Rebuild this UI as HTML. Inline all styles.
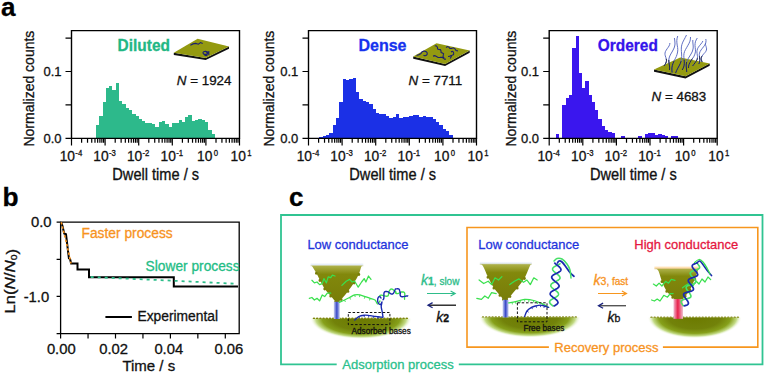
<!DOCTYPE html>
<html><head><meta charset="utf-8"><style>html,body{margin:0;padding:0;background:#fff;width:765px;height:373px;overflow:hidden}svg{display:block}</style></head>
<body><svg width="765" height="373" viewBox="0 0 765 373">
<defs>
<linearGradient id="tipg" x1="0" y1="0" x2="0" y2="1"><stop offset="0" stop-color="#b0b44c"/><stop offset="0.24" stop-color="#82880c"/><stop offset="1" stop-color="#787d08"/></linearGradient>
<radialGradient id="surfg" cx="0.5" cy="0" r="1" gradientTransform="matrix(0.5 0 0 1 0.25 0)"><stop offset="0" stop-color="#6c7a00"/><stop offset="0.55" stop-color="#72820a"/><stop offset="0.76" stop-color="#86a01a"/><stop offset="0.89" stop-color="#c4dc88"/><stop offset="1" stop-color="#ffffff" stop-opacity="0"/></radialGradient>
<linearGradient id="barb" x1="0" y1="0" x2="1" y2="0"><stop offset="0" stop-color="#c8d0f0"/><stop offset="0.5" stop-color="#3848c8"/><stop offset="1" stop-color="#c8d0f0"/></linearGradient>
<linearGradient id="barr" x1="0" y1="0" x2="1" y2="0"><stop offset="0" stop-color="#f0b8d0"/><stop offset="0.45" stop-color="#e8204a"/><stop offset="1" stop-color="#f0c0d0"/></linearGradient>
<linearGradient id="glowb" x1="0" y1="0" x2="0" y2="1"><stop offset="0" stop-color="#ffffff"/><stop offset="0.5" stop-color="#e4ecf8"/><stop offset="1" stop-color="#a8ac50" stop-opacity="0.3"/></linearGradient>
<linearGradient id="glowo" x1="0" y1="0" x2="0" y2="1"><stop offset="0" stop-color="#ffffff"/><stop offset="0.5" stop-color="#ffdcaa"/><stop offset="1" stop-color="#c0a040" stop-opacity="0.3"/></linearGradient>
</defs>
<rect width="765" height="373" fill="#fff"/>
<text x="1" y="16" font-family="Liberation Sans, sans-serif" font-size="26" font-weight="bold" fill="#000" stroke="#000" stroke-width="0.3">a</text>
<path d="M95.90 138.4V124.70H99.21V138.4ZM99.21 138.4V115.70H102.51V138.4ZM102.51 138.4V102.10H105.82V138.4ZM105.82 138.4V87.70H109.12V138.4ZM109.12 138.4V85.60H112.43V138.4ZM112.43 138.4V89.60H115.74V138.4ZM115.74 138.4V83.40H119.04V138.4ZM119.04 138.4V101.30H122.35V138.4ZM122.35 138.4V104.30H125.65V138.4ZM125.65 138.4V107.70H128.96V138.4ZM128.96 138.4V109.90H132.27V138.4ZM132.27 138.4V113.70H135.57V138.4ZM135.57 138.4V115.70H138.88V138.4ZM138.88 138.4V118.80H142.18V138.4ZM142.18 138.4V121.30H145.49V138.4ZM145.49 138.4V122.50H148.80V138.4ZM148.80 138.4V123.00H152.10V138.4ZM152.10 138.4V124.20H155.41V138.4ZM155.41 138.4V126.80H158.71V138.4ZM158.71 138.4V121.80H162.02V138.4ZM162.02 138.4V120.50H165.33V138.4ZM165.33 138.4V123.50H168.63V138.4ZM168.63 138.4V127.30H171.94V138.4ZM171.94 138.4V123.00H175.24V138.4ZM175.24 138.4V122.50H178.55V138.4ZM178.55 138.4V119.60H181.86V138.4ZM181.86 138.4V122.20H185.16V138.4ZM185.16 138.4V117.10H188.47V138.4ZM188.47 138.4V115.40H191.77V138.4ZM191.77 138.4V120.50H195.08V138.4ZM195.08 138.4V120.10H198.39V138.4ZM198.39 138.4V119.10H201.69V138.4ZM201.69 138.4V120.10H205.00V138.4ZM205.00 138.4V121.80H208.30V138.4ZM208.30 138.4V130.30H211.61V138.4ZM211.61 138.4V133.70H214.92V138.4Z" fill="#2db98b" shape-rendering="crispEdges"/>
<path d="M71.5 30.6H239.5V138.4H71.5Z" fill="none" stroke="#000" stroke-width="1.4"/>
<path d="M71.50 138.4v7.2M81.61 138.4v4.4M87.53 138.4v4.4M91.73 138.4v4.4M94.99 138.4v4.4M97.65 138.4v4.4M99.90 138.4v4.4M101.84 138.4v4.4M103.56 138.4v4.4M105.10 138.4v7.2M115.21 138.4v4.4M121.13 138.4v4.4M125.33 138.4v4.4M128.59 138.4v4.4M131.25 138.4v4.4M133.50 138.4v4.4M135.44 138.4v4.4M137.16 138.4v4.4M138.70 138.4v7.2M148.81 138.4v4.4M154.73 138.4v4.4M158.93 138.4v4.4M162.19 138.4v4.4M164.85 138.4v4.4M167.10 138.4v4.4M169.04 138.4v4.4M170.76 138.4v4.4M172.30 138.4v7.2M182.41 138.4v4.4M188.33 138.4v4.4M192.53 138.4v4.4M195.79 138.4v4.4M198.45 138.4v4.4M200.70 138.4v4.4M202.64 138.4v4.4M204.36 138.4v4.4M205.90 138.4v7.2M216.01 138.4v4.4M221.93 138.4v4.4M226.13 138.4v4.4M229.39 138.4v4.4M232.05 138.4v4.4M234.30 138.4v4.4M236.24 138.4v4.4M237.96 138.4v4.4M239.50 138.4v7.2M71.5 138.40h-6M71.5 104.95h-6M71.5 71.50h-6M71.5 38.05h-6" stroke="#000" stroke-width="1.2" fill="none"/>
<text transform="translate(59.70 160.6) scale(0.92 1)" font-family="Liberation Sans, sans-serif" font-size="15" fill="#111" stroke="#111" stroke-width="0.3">10</text>
<text transform="translate(75.34 156.2) scale(0.9 1)" font-family="Liberation Sans, sans-serif" font-size="8.6" fill="#111" stroke="#111" stroke-width="0.3">-4</text>
<text transform="translate(93.30 160.6) scale(0.92 1)" font-family="Liberation Sans, sans-serif" font-size="15" fill="#111" stroke="#111" stroke-width="0.3">10</text>
<text transform="translate(108.94 156.2) scale(0.9 1)" font-family="Liberation Sans, sans-serif" font-size="8.6" fill="#111" stroke="#111" stroke-width="0.3">-3</text>
<text transform="translate(126.90 160.6) scale(0.92 1)" font-family="Liberation Sans, sans-serif" font-size="15" fill="#111" stroke="#111" stroke-width="0.3">10</text>
<text transform="translate(142.54 156.2) scale(0.9 1)" font-family="Liberation Sans, sans-serif" font-size="8.6" fill="#111" stroke="#111" stroke-width="0.3">-2</text>
<text transform="translate(160.50 160.6) scale(0.92 1)" font-family="Liberation Sans, sans-serif" font-size="15" fill="#111" stroke="#111" stroke-width="0.3">10</text>
<text transform="translate(176.14 156.2) scale(0.9 1)" font-family="Liberation Sans, sans-serif" font-size="8.6" fill="#111" stroke="#111" stroke-width="0.3">-1</text>
<text transform="translate(197.00 160.6) scale(0.92 1)" font-family="Liberation Sans, sans-serif" font-size="15" fill="#111" stroke="#111" stroke-width="0.3">10</text>
<text transform="translate(213.64 156.2) scale(0.9 1)" font-family="Liberation Sans, sans-serif" font-size="8.6" fill="#111" stroke="#111" stroke-width="0.3">0</text>
<text transform="translate(230.60 160.6) scale(0.92 1)" font-family="Liberation Sans, sans-serif" font-size="15" fill="#111" stroke="#111" stroke-width="0.3">10</text>
<text transform="translate(247.24 156.2) scale(0.9 1)" font-family="Liberation Sans, sans-serif" font-size="8.6" fill="#111" stroke="#111" stroke-width="0.3">1</text>
<text x="61.5" y="76.10" font-family="Liberation Sans, sans-serif" font-size="13" fill="#111" text-anchor="end" stroke="#111" stroke-width="0.3">0.1</text>
<text x="61.5" y="143.20" font-family="Liberation Sans, sans-serif" font-size="13" fill="#111" text-anchor="end" stroke="#111" stroke-width="0.3">0.0</text>
<text transform="translate(155.7 179.6) scale(1 1.07)" font-family="Liberation Sans, sans-serif" font-size="14.6" fill="#111" text-anchor="middle" stroke="#111" stroke-width="0.3">Dwell time / s</text>
<text transform="translate(34.2 88.6) rotate(-90)" font-family="Liberation Sans, sans-serif" font-size="14" fill="#111" text-anchor="middle" stroke="#111" stroke-width="0.3">Normalized counts</text>
<text transform="translate(117.6 50.8) scale(0.92 1)" font-family="Liberation Sans, sans-serif" font-size="16.8" font-weight="bold" fill="#22b784" stroke="#22b784" stroke-width="0.3">Diluted</text>
<text x="176.8" y="85.4" font-family="Liberation Sans, sans-serif" font-size="13.4" fill="#111" stroke="#111" stroke-width="0.3"><tspan font-style="italic">N</tspan> = 1924</text>
<path d="M173.8 52.8L205.7 57.9L229 46.5L229 48.7L205.7 60.1L173.8 55.0Z" fill="#111"/>
<path d="M173.8 52.8L197.6 38.8L229 46.5L205.7 57.9Z" fill="#949a10"/>
<path d="M319.20 138.4V136.60H322.54V138.4ZM322.54 138.4V136.00H325.88V138.4ZM325.88 138.4V135.30H329.22V138.4ZM329.22 138.4V132.80H332.56V138.4ZM332.56 138.4V124.90H335.90V138.4ZM335.90 138.4V117.80H339.24V138.4ZM339.24 138.4V102.30H342.58V138.4ZM342.58 138.4V79.00H345.92V138.4ZM345.92 138.4V79.90H349.26V138.4ZM349.26 138.4V78.80H352.60V138.4ZM352.60 138.4V78.10H355.94V138.4ZM355.94 138.4V92.10H359.28V138.4ZM359.28 138.4V99.10H362.62V138.4ZM362.62 138.4V100.80H365.96V138.4ZM365.96 138.4V102.40H369.30V138.4ZM369.30 138.4V104.30H372.64V138.4ZM372.64 138.4V109.20H375.98V138.4ZM375.98 138.4V112.80H379.32V138.4ZM379.32 138.4V113.70H382.66V138.4ZM382.66 138.4V114.10H386.00V138.4ZM386.00 138.4V116.00H389.34V138.4ZM389.34 138.4V117.80H392.68V138.4ZM392.68 138.4V117.00H396.02V138.4ZM396.02 138.4V114.00H399.36V138.4ZM399.36 138.4V118.40H402.70V138.4ZM402.70 138.4V116.80H406.04V138.4ZM406.04 138.4V116.70H409.38V138.4ZM409.38 138.4V116.20H412.72V138.4ZM412.72 138.4V114.50H416.06V138.4ZM416.06 138.4V114.50H419.40V138.4ZM419.40 138.4V116.50H422.74V138.4ZM422.74 138.4V116.10H426.08V138.4ZM426.08 138.4V117.00H429.42V138.4ZM429.42 138.4V116.50H432.76V138.4ZM432.76 138.4V119.30H436.10V138.4ZM436.10 138.4V122.00H439.44V138.4ZM439.44 138.4V124.70H442.78V138.4ZM442.78 138.4V128.50H446.12V138.4ZM446.12 138.4V131.00H449.46V138.4ZM449.46 138.4V134.90H452.80V138.4Z" fill="#1b30e6" shape-rendering="crispEdges"/>
<path d="M308.5 30.6H476.5V138.4H308.5Z" fill="none" stroke="#000" stroke-width="1.4"/>
<path d="M308.50 138.4v7.2M318.61 138.4v4.4M324.53 138.4v4.4M328.73 138.4v4.4M331.99 138.4v4.4M334.65 138.4v4.4M336.90 138.4v4.4M338.84 138.4v4.4M340.56 138.4v4.4M342.10 138.4v7.2M352.21 138.4v4.4M358.13 138.4v4.4M362.33 138.4v4.4M365.59 138.4v4.4M368.25 138.4v4.4M370.50 138.4v4.4M372.44 138.4v4.4M374.16 138.4v4.4M375.70 138.4v7.2M385.81 138.4v4.4M391.73 138.4v4.4M395.93 138.4v4.4M399.19 138.4v4.4M401.85 138.4v4.4M404.10 138.4v4.4M406.04 138.4v4.4M407.76 138.4v4.4M409.30 138.4v7.2M419.41 138.4v4.4M425.33 138.4v4.4M429.53 138.4v4.4M432.79 138.4v4.4M435.45 138.4v4.4M437.70 138.4v4.4M439.64 138.4v4.4M441.36 138.4v4.4M442.90 138.4v7.2M453.01 138.4v4.4M458.93 138.4v4.4M463.13 138.4v4.4M466.39 138.4v4.4M469.05 138.4v4.4M471.30 138.4v4.4M473.24 138.4v4.4M474.96 138.4v4.4M476.50 138.4v7.2M308.5 138.40h-6M308.5 104.95h-6M308.5 71.50h-6M308.5 38.05h-6" stroke="#000" stroke-width="1.2" fill="none"/>
<text transform="translate(296.70 160.6) scale(0.92 1)" font-family="Liberation Sans, sans-serif" font-size="15" fill="#111" stroke="#111" stroke-width="0.3">10</text>
<text transform="translate(312.34 156.2) scale(0.9 1)" font-family="Liberation Sans, sans-serif" font-size="8.6" fill="#111" stroke="#111" stroke-width="0.3">-4</text>
<text transform="translate(330.30 160.6) scale(0.92 1)" font-family="Liberation Sans, sans-serif" font-size="15" fill="#111" stroke="#111" stroke-width="0.3">10</text>
<text transform="translate(345.94 156.2) scale(0.9 1)" font-family="Liberation Sans, sans-serif" font-size="8.6" fill="#111" stroke="#111" stroke-width="0.3">-3</text>
<text transform="translate(363.90 160.6) scale(0.92 1)" font-family="Liberation Sans, sans-serif" font-size="15" fill="#111" stroke="#111" stroke-width="0.3">10</text>
<text transform="translate(379.54 156.2) scale(0.9 1)" font-family="Liberation Sans, sans-serif" font-size="8.6" fill="#111" stroke="#111" stroke-width="0.3">-2</text>
<text transform="translate(397.50 160.6) scale(0.92 1)" font-family="Liberation Sans, sans-serif" font-size="15" fill="#111" stroke="#111" stroke-width="0.3">10</text>
<text transform="translate(413.14 156.2) scale(0.9 1)" font-family="Liberation Sans, sans-serif" font-size="8.6" fill="#111" stroke="#111" stroke-width="0.3">-1</text>
<text transform="translate(434.00 160.6) scale(0.92 1)" font-family="Liberation Sans, sans-serif" font-size="15" fill="#111" stroke="#111" stroke-width="0.3">10</text>
<text transform="translate(450.64 156.2) scale(0.9 1)" font-family="Liberation Sans, sans-serif" font-size="8.6" fill="#111" stroke="#111" stroke-width="0.3">0</text>
<text transform="translate(467.60 160.6) scale(0.92 1)" font-family="Liberation Sans, sans-serif" font-size="15" fill="#111" stroke="#111" stroke-width="0.3">10</text>
<text transform="translate(484.24 156.2) scale(0.9 1)" font-family="Liberation Sans, sans-serif" font-size="8.6" fill="#111" stroke="#111" stroke-width="0.3">1</text>
<text x="298.3" y="76.10" font-family="Liberation Sans, sans-serif" font-size="13" fill="#111" text-anchor="end" stroke="#111" stroke-width="0.3">0.1</text>
<text x="298.3" y="143.20" font-family="Liberation Sans, sans-serif" font-size="13" fill="#111" text-anchor="end" stroke="#111" stroke-width="0.3">0.0</text>
<text transform="translate(392.7 179.6) scale(1 1.07)" font-family="Liberation Sans, sans-serif" font-size="14.6" fill="#111" text-anchor="middle" stroke="#111" stroke-width="0.3">Dwell time / s</text>
<text transform="translate(274.2 88.6) rotate(-90)" font-family="Liberation Sans, sans-serif" font-size="14" fill="#111" text-anchor="middle" stroke="#111" stroke-width="0.3">Normalized counts</text>
<text transform="translate(358.4 50.7) scale(0.955 1)" font-family="Liberation Sans, sans-serif" font-size="16.8" font-weight="bold" fill="#1632ee" stroke="#1632ee" stroke-width="0.3">Dense</text>
<text x="408.5" y="84.8" font-family="Liberation Sans, sans-serif" font-size="13.4" fill="#111" stroke="#111" stroke-width="0.3"><tspan font-style="italic">N</tspan> = 7711</text>
<path d="M413.2 56.6L445.1 63.9L469.7 50.5L469.7 52.7L445.1 66.1L413.2 58.800000000000004Z" fill="#111"/>
<path d="M413.2 56.6L436.5 43.2L469.7 50.5L445.1 63.9Z" fill="#949a10"/>
<path d="M555.80 138.4V133.90H559.00V138.4ZM562.20 138.4V104.90H565.90V138.4ZM565.90 138.4V98.00H569.20V138.4ZM569.20 138.4V94.80H572.40V138.4ZM572.40 138.4V48.20H575.60V138.4ZM575.60 138.4V36.10H578.80V138.4ZM578.80 138.4V72.60H582.00V138.4ZM582.00 138.4V87.70H585.20V138.4ZM585.20 138.4V80.70H588.80V138.4ZM588.80 138.4V95.30H592.00V138.4ZM592.00 138.4V101.70H595.20V138.4ZM595.20 138.4V109.80H598.40V138.4ZM598.40 138.4V119.40H601.60V138.4ZM601.60 138.4V125.80H604.90V138.4ZM604.90 138.4V129.90H608.10V138.4ZM608.10 138.4V131.80H611.60V138.4ZM611.60 138.4V133.10H615.20V138.4ZM621.20 138.4V135.80H625.10V138.4ZM638.00 138.4V135.80H641.60V138.4ZM644.70 138.4V134.20H647.80V138.4ZM647.80 138.4V133.40H651.00V138.4ZM651.00 138.4V132.90H654.90V138.4ZM654.90 138.4V134.80H658.40V138.4ZM658.40 138.4V134.20H662.00V138.4ZM662.00 138.4V134.80H665.10V138.4ZM665.10 138.4V136.40H668.20V138.4ZM671.40 138.4V135.80H677.60V138.4Z" fill="#3a16ee" shape-rendering="crispEdges"/>
<path d="M549.2 30.6H717.2V138.4H549.2Z" fill="none" stroke="#000" stroke-width="1.4"/>
<path d="M549.20 138.4v7.2M559.31 138.4v4.4M565.23 138.4v4.4M569.43 138.4v4.4M572.69 138.4v4.4M575.35 138.4v4.4M577.60 138.4v4.4M579.54 138.4v4.4M581.26 138.4v4.4M582.80 138.4v7.2M592.91 138.4v4.4M598.83 138.4v4.4M603.03 138.4v4.4M606.29 138.4v4.4M608.95 138.4v4.4M611.20 138.4v4.4M613.14 138.4v4.4M614.86 138.4v4.4M616.40 138.4v7.2M626.51 138.4v4.4M632.43 138.4v4.4M636.63 138.4v4.4M639.89 138.4v4.4M642.55 138.4v4.4M644.80 138.4v4.4M646.74 138.4v4.4M648.46 138.4v4.4M650.00 138.4v7.2M660.11 138.4v4.4M666.03 138.4v4.4M670.23 138.4v4.4M673.49 138.4v4.4M676.15 138.4v4.4M678.40 138.4v4.4M680.34 138.4v4.4M682.06 138.4v4.4M683.60 138.4v7.2M693.71 138.4v4.4M699.63 138.4v4.4M703.83 138.4v4.4M707.09 138.4v4.4M709.75 138.4v4.4M712.00 138.4v4.4M713.94 138.4v4.4M715.66 138.4v4.4M717.20 138.4v7.2M549.2 138.40h-6M549.2 104.95h-6M549.2 71.50h-6M549.2 38.05h-6" stroke="#000" stroke-width="1.2" fill="none"/>
<text transform="translate(537.40 160.6) scale(0.92 1)" font-family="Liberation Sans, sans-serif" font-size="15" fill="#111" stroke="#111" stroke-width="0.3">10</text>
<text transform="translate(553.04 156.2) scale(0.9 1)" font-family="Liberation Sans, sans-serif" font-size="8.6" fill="#111" stroke="#111" stroke-width="0.3">-4</text>
<text transform="translate(571.00 160.6) scale(0.92 1)" font-family="Liberation Sans, sans-serif" font-size="15" fill="#111" stroke="#111" stroke-width="0.3">10</text>
<text transform="translate(586.64 156.2) scale(0.9 1)" font-family="Liberation Sans, sans-serif" font-size="8.6" fill="#111" stroke="#111" stroke-width="0.3">-3</text>
<text transform="translate(604.60 160.6) scale(0.92 1)" font-family="Liberation Sans, sans-serif" font-size="15" fill="#111" stroke="#111" stroke-width="0.3">10</text>
<text transform="translate(620.24 156.2) scale(0.9 1)" font-family="Liberation Sans, sans-serif" font-size="8.6" fill="#111" stroke="#111" stroke-width="0.3">-2</text>
<text transform="translate(638.20 160.6) scale(0.92 1)" font-family="Liberation Sans, sans-serif" font-size="15" fill="#111" stroke="#111" stroke-width="0.3">10</text>
<text transform="translate(653.84 156.2) scale(0.9 1)" font-family="Liberation Sans, sans-serif" font-size="8.6" fill="#111" stroke="#111" stroke-width="0.3">-1</text>
<text transform="translate(674.70 160.6) scale(0.92 1)" font-family="Liberation Sans, sans-serif" font-size="15" fill="#111" stroke="#111" stroke-width="0.3">10</text>
<text transform="translate(691.34 156.2) scale(0.9 1)" font-family="Liberation Sans, sans-serif" font-size="8.6" fill="#111" stroke="#111" stroke-width="0.3">0</text>
<text transform="translate(708.30 160.6) scale(0.92 1)" font-family="Liberation Sans, sans-serif" font-size="15" fill="#111" stroke="#111" stroke-width="0.3">10</text>
<text transform="translate(724.94 156.2) scale(0.9 1)" font-family="Liberation Sans, sans-serif" font-size="8.6" fill="#111" stroke="#111" stroke-width="0.3">1</text>
<text x="539" y="76.10" font-family="Liberation Sans, sans-serif" font-size="13" fill="#111" text-anchor="end" stroke="#111" stroke-width="0.3">0.1</text>
<text x="539" y="143.20" font-family="Liberation Sans, sans-serif" font-size="13" fill="#111" text-anchor="end" stroke="#111" stroke-width="0.3">0.0</text>
<text transform="translate(633.4000000000001 179.6) scale(1 1.07)" font-family="Liberation Sans, sans-serif" font-size="14.6" fill="#111" text-anchor="middle" stroke="#111" stroke-width="0.3">Dwell time / s</text>
<text transform="translate(515.6 88.6) rotate(-90)" font-family="Liberation Sans, sans-serif" font-size="14" fill="#111" text-anchor="middle" stroke="#111" stroke-width="0.3">Normalized counts</text>
<text transform="translate(597.8 50.5) scale(0.92 1)" font-family="Liberation Sans, sans-serif" font-size="16.8" font-weight="bold" fill="#3414ea" stroke="#3414ea" stroke-width="0.3">Ordered</text>
<text x="651.5" y="101" font-family="Liberation Sans, sans-serif" font-size="13.4" fill="#111" stroke="#111" stroke-width="0.3"><tspan font-style="italic">N</tspan> = 4683</text>
<path d="M654 69.5L685.5 76.2L709.7 63.5L709.7 65.7L685.5 78.4L654 71.7Z" fill="#111"/>
<path d="M654 69.5L680.2 57.5L709.7 63.5L685.5 76.2Z" fill="#949a10"/>
<path d="M664.0 66.0L665.0 64.6L665.8 63.1L666.3 61.7L666.5 60.2L666.2 58.8L665.8 57.4L665.3 55.9L665.0 54.5L665.0 53.1L665.4 51.6L666.2 50.2L667.1 48.8L668.2 47.3L669.1 45.9L669.7 44.4L669.9 43.0M669.5 70.0L669.6 68.0L669.5 66.0L669.2 64.0L668.9 62.0L668.8 60.0L669.1 58.0L669.8 56.0L670.8 54.0L672.0 52.0L673.1 50.0L674.1 48.0L674.7 46.0L675.0 44.0L674.9 42.0L674.7 40.0L674.4 38.0M672.1 72.5L671.9 70.2L671.9 67.9L672.3 65.7L673.0 63.4L674.0 61.1L675.2 58.8L676.3 56.5L677.1 54.2L677.6 52.0L677.8 49.7L677.6 47.4L677.2 45.1L676.9 42.8L676.8 40.6L677.1 38.3L677.7 36.0M675.6 73.0L676.6 70.6L677.8 68.2L679.1 65.9L680.3 63.5L681.1 61.1L681.6 58.8L681.7 56.4L681.6 54.0L681.4 51.6L681.3 49.2L681.4 46.9L681.9 44.5L682.8 42.1L684.0 39.8L685.3 37.4L686.5 35.0M682.2 70.0L683.3 67.9L684.0 65.9L684.3 63.8L684.3 61.8L684.1 59.7L683.9 57.6L683.8 55.6L684.0 53.5L684.6 51.4L685.6 49.4L686.8 47.3L688.0 45.2L689.1 43.2L690.0 41.1L690.4 39.1L690.5 37.0M686.7 72.0L686.6 70.0L686.4 68.0L686.2 66.0L686.3 64.0L686.7 62.0L687.4 60.0L688.5 58.0L689.8 56.0L691.0 54.0L692.1 52.0L692.8 50.0L693.2 48.0L693.2 46.0L693.0 44.0L692.8 42.0L692.8 40.0M688.5 68.0L688.6 66.1L689.1 64.2L690.0 62.4L691.1 60.5L692.4 58.6L693.7 56.8L694.6 54.9L695.2 53.0L695.5 51.1L695.4 49.2L695.2 47.4L695.0 45.5L695.1 43.6L695.4 41.8L696.2 39.9L697.3 38.0M692.6 66.0L693.8 64.4L695.0 62.9L696.1 61.3L697.0 59.8L697.4 58.2L697.5 56.6L697.3 55.1L697.1 53.5L696.9 51.9L697.1 50.4L697.5 48.8L698.4 47.2L699.5 45.7L700.8 44.1L702.0 42.6L702.9 41.0M698.8 64.0L699.5 62.4L699.8 60.9L699.8 59.3L699.6 57.8L699.4 56.2L699.3 54.6L699.5 53.1L700.1 51.5L701.1 49.9L702.3 48.4L703.5 46.8L704.7 45.2L705.5 43.7L705.9 42.1L706.0 40.6L705.8 39.0M702.1 62.0L701.7 60.8L701.3 59.6L701.2 58.4L701.4 57.2L702.0 56.1L702.9 54.9L703.9 53.7L705.0 52.5L705.9 51.3L706.4 50.1L706.6 48.9L706.4 47.8L706.1 46.6L705.7 45.4L705.4 44.2L705.5 43.0" fill="none" stroke="#5868c0" stroke-width="0.95"/>
<path d="M664.0 66.0L665.0 64.6L665.8 63.1L666.3 61.7L666.5 60.2L666.2 58.8M669.5 70.0L669.6 68.0L669.5 66.0L669.2 64.0L668.9 62.0L668.8 60.0M672.1 72.5L671.9 70.2L671.9 67.9L672.3 65.7L673.0 63.4L674.0 61.1M675.6 73.0L676.6 70.6L677.8 68.2L679.1 65.9L680.3 63.5L681.1 61.1M682.2 70.0L683.3 67.9L684.0 65.9L684.3 63.8L684.3 61.8L684.1 59.7M686.7 72.0L686.6 70.0L686.4 68.0L686.2 66.0L686.3 64.0L686.7 62.0M688.5 68.0L688.6 66.1L689.1 64.2L690.0 62.4L691.1 60.5L692.4 58.6M692.6 66.0L693.8 64.4L695.0 62.9L696.1 61.3L697.0 59.8L697.4 58.2M698.8 64.0L699.5 62.4L699.8 60.9L699.8 59.3L699.6 57.8L699.4 56.2M702.1 62.0L701.7 60.8L701.3 59.6L701.2 58.4L701.4 57.2L702.0 56.1" fill="none" stroke="#22284a" stroke-width="1.0"/>
<path d="M190.4 45.2L193 43.9L195.7 43.4L198.4 44.2L200.5 42.6L202.7 43.6M203 52.8a2.4 1.6 0 1 0 4.8 0a2.4 1.6 0 1 0 -4.8 0M205 51.2q3 1 2 4M208.8 51v4M204 54.5q1.5 1.8 3.5 0.6" fill="none" stroke="#1c2070" stroke-width="1.1"/>
<path d="M434.7 45.8L436.5 46.0L437.5 47.5L437.5 48.9L438.8 49.5L440.4 49.6L441.0 51.0L441.1 52.5L442.5 53.0L443.6 53.7L443.3 55.0L443.0 56.6L444.2 57.8M446.0 47.5L447.4 46.6L449.0 47.2L449.9 48.5L451.5 48.4L453.3 47.8L455.0 48.8L456.0 50.5L458.0 50.9M433.0 56.1L434.8 55.7L436.5 56.5L438.1 57.5L440.0 57.4L441.9 57.2L443.5 58.2L444.5 59.2L446.0 59.1M421 53.5q1 -3 4 -2.3t2 3.5q-1.5 1.8 -3.5 0.5M416.5 55.5q2.5 -0.5 4.5 -2M451 52q2 -1.5 2.6 0.8t-1.8 2.4M451.5 55q0.2 2.5 -1.5 3.5M448 56.5q2 0 3 -1" fill="none" stroke="#1c2070" stroke-width="1.1"/>
<text x="2.4" y="206.2" font-family="Liberation Sans, sans-serif" font-size="26.3" font-weight="bold" fill="#000" stroke="#000" stroke-width="0.3">b</text>
<path d="M60.6 222.2H239.2V333.6H60.6Z" fill="none" stroke="#000" stroke-width="1.3"/>
<path d="M60.60 333.6v5M88.05 333.6v5M115.50 333.6v5M142.95 333.6v5M170.40 333.6v5M197.85 333.6v5M225.30 333.6v5M60.6 222.20h-4M60.6 259.33h-4M60.6 296.47h-4M60.6 333.60h-4" stroke="#000" stroke-width="1.2" fill="none"/>
<text x="61.3" y="353.5" font-family="Liberation Sans, sans-serif" font-size="14.8" fill="#111" text-anchor="middle" stroke="#111" stroke-width="0.3">0.00</text>
<text x="113.7" y="353.5" font-family="Liberation Sans, sans-serif" font-size="14.8" fill="#111" text-anchor="middle" stroke="#111" stroke-width="0.3">0.02</text>
<text x="168.8" y="353.5" font-family="Liberation Sans, sans-serif" font-size="14.8" fill="#111" text-anchor="middle" stroke="#111" stroke-width="0.3">0.04</text>
<text x="228.9" y="353.5" font-family="Liberation Sans, sans-serif" font-size="14.8" fill="#111" text-anchor="middle" stroke="#111" stroke-width="0.3">0.06</text>
<text x="51.6" y="227.4" font-family="Liberation Sans, sans-serif" font-size="14.8" fill="#111" text-anchor="end" stroke="#111" stroke-width="0.3">0.0</text>
<text x="49.2" y="302.3" font-family="Liberation Sans, sans-serif" font-size="14.8" fill="#111" text-anchor="end" stroke="#111" stroke-width="0.3">-1.0</text>
<text x="148.8" y="371" font-family="Liberation Sans, sans-serif" font-size="15" fill="#111" text-anchor="middle" stroke="#111" stroke-width="0.3">Time / s</text>
<text transform="translate(14.6 281.3) rotate(-90)" font-family="Liberation Sans, sans-serif" font-size="14.5" fill="#111" text-anchor="middle" textLength="65" lengthAdjust="spacingAndGlyphs" stroke="#111" stroke-width="0.3">Ln(<tspan font-style="italic">N</tspan>/<tspan font-style="italic">N</tspan><tspan font-size="9" dy="2">0</tspan>)</text>
<path d="M61.2 222.3L62.5 226L64.2 233.5L66 234.3L68.9 258.3L70.1 259.2L71.1 263.5H77.5V269.5H89V277.2H173.8V286.4H238" fill="none" stroke="#000" stroke-width="2"/>
<path d="M61.2 222.3Q66 240 71 263.5" fill="none" stroke="#f7931e" stroke-width="1.6" stroke-dasharray="2.5 2"/>
<path d="M90.7 277L160 280.1L235 283.7" fill="none" stroke="#2ebd8a" stroke-width="1.8" stroke-dasharray="3 4"/>
<text x="81.5" y="238.2" font-family="Liberation Sans, sans-serif" font-size="13.8" fill="#f7931e" stroke="#f7931e" stroke-width="0.3">Faster process</text>
<text x="145.6" y="270.6" font-family="Liberation Sans, sans-serif" font-size="13.75" fill="#24bd86" stroke="#24bd86" stroke-width="0.3">Slower process</text>
<path d="M105.4 317H131.9" stroke="#000" stroke-width="2"/>
<text x="137.5" y="321.2" font-family="Liberation Sans, sans-serif" font-size="13.8" fill="#111" stroke="#111" stroke-width="0.3">Experimental</text>
<text x="289" y="206" font-family="Liberation Sans, sans-serif" font-size="26" font-weight="bold" fill="#000" stroke="#000" stroke-width="0.3">c</text>
<path d="M336.7 364.4H281V215H762.5V364.4H458.8" fill="none" stroke="#30c492" stroke-width="1.8"/>
<text transform="translate(342.2 369.1) scale(0.97 1)" font-family="Liberation Sans, sans-serif" font-size="13.45" fill="#2abf8c" stroke="#2abf8c" stroke-width="0.3">Adsorption process</text>
<path d="M548.9 347.1H467V227.5H757.8V347.1H662.9" fill="none" stroke="#f7961e" stroke-width="1.6"/>
<text transform="translate(554.3 352) scale(0.97 1)" font-family="Liberation Sans, sans-serif" font-size="13.45" fill="#f7931e" stroke="#f7931e" stroke-width="0.3">Recovery process</text>
<text transform="translate(307.4 249.3) scale(0.955 1)" font-family="Liberation Sans, sans-serif" font-size="13.6" fill="#1f35dc" stroke="#1f35dc" stroke-width="0.3">Low conductance</text>
<text transform="translate(478.2 249.1) scale(0.955 1)" font-family="Liberation Sans, sans-serif" font-size="13.6" fill="#1f35dc" stroke="#1f35dc" stroke-width="0.3">Low conductance</text>
<text transform="translate(634.3 249) scale(0.955 1)" font-family="Liberation Sans, sans-serif" font-size="13.6" fill="#e5173f" stroke="#e5173f" stroke-width="0.3">High conductance</text>
<path d="M427 293.5H455.2M450.6 290.9L455.2 293.5L450.6 296.1" fill="none" stroke="#2ebd8a" stroke-width="1.2"/>
<path d="M456 305.2H428.5" stroke="#111" stroke-width="1.3"/><path d="M432.6 302.6L428 305.2L432.6 307.8" fill="none" stroke="#1a237e" stroke-width="1.3"/>
<path d="M598 293.5H626.5M621.9 290.9L626.5 293.5L621.9 296.1" fill="none" stroke="#f7961e" stroke-width="1.2"/>
<path d="M626 305.7H599" stroke="#555" stroke-width="1.4"/><path d="M603.1 303.1L598.5 305.7L603.1 308.3" fill="none" stroke="#1a237e" stroke-width="1.3"/>
<text x="421" y="284.6" font-family="Liberation Sans, sans-serif" font-size="14" font-style="italic" fill="#2ebd8a" stroke="#2ebd8a" stroke-width="0.3">k<tspan font-style="normal" font-size="10.5" font-weight="bold">1</tspan><tspan font-style="normal" font-size="10">, slow</tspan></text>
<text x="436.2" y="322.1" font-family="Liberation Sans, sans-serif" font-size="14" font-style="italic" fill="#111" stroke="#111" stroke-width="0.3">k<tspan font-style="normal" font-size="10.5" font-weight="bold">2</tspan></text>
<text x="593.6" y="285.1" font-family="Liberation Sans, sans-serif" font-size="14" font-style="italic" fill="#f7931e" stroke="#f7931e" stroke-width="0.3">k<tspan font-style="normal" font-size="10.5">3</tspan><tspan font-style="normal" font-size="10">, fast</tspan></text>
<text x="607.4" y="322.4" font-family="Liberation Sans, sans-serif" font-size="14" font-style="italic" fill="#111" stroke="#111" stroke-width="0.3">k<tspan font-style="normal" font-size="10.5">b</tspan></text>
<path d="M310 318.6A51.0 20.5 0 0 0 412 318.6Z" fill="url(#surfg)"/>
<path d="M312.7 318.90000000000003a1.3 1.3 0 0 1 2.6 0ZM315.9 318.90000000000003a1.3 1.3 0 0 1 2.6 0ZM319.1 318.90000000000003a1.3 1.3 0 0 1 2.6 0ZM322.3 318.90000000000003a1.3 1.3 0 0 1 2.6 0ZM325.5 318.90000000000003a1.3 1.3 0 0 1 2.6 0ZM328.7 318.90000000000003a1.3 1.3 0 0 1 2.6 0ZM331.9 318.90000000000003a1.3 1.3 0 0 1 2.6 0ZM335.1 318.90000000000003a1.3 1.3 0 0 1 2.6 0ZM338.3 318.90000000000003a1.3 1.3 0 0 1 2.6 0ZM341.5 318.90000000000003a1.3 1.3 0 0 1 2.6 0ZM344.7 318.90000000000003a1.3 1.3 0 0 1 2.6 0ZM347.9 318.90000000000003a1.3 1.3 0 0 1 2.6 0ZM351.1 318.90000000000003a1.3 1.3 0 0 1 2.6 0ZM354.3 318.90000000000003a1.3 1.3 0 0 1 2.6 0ZM357.5 318.90000000000003a1.3 1.3 0 0 1 2.6 0ZM360.7 318.90000000000003a1.3 1.3 0 0 1 2.6 0ZM363.9 318.90000000000003a1.3 1.3 0 0 1 2.6 0ZM367.1 318.90000000000003a1.3 1.3 0 0 1 2.6 0ZM370.3 318.90000000000003a1.3 1.3 0 0 1 2.6 0ZM373.5 318.90000000000003a1.3 1.3 0 0 1 2.6 0ZM376.7 318.90000000000003a1.3 1.3 0 0 1 2.6 0ZM379.9 318.90000000000003a1.3 1.3 0 0 1 2.6 0ZM383.1 318.90000000000003a1.3 1.3 0 0 1 2.6 0ZM386.3 318.90000000000003a1.3 1.3 0 0 1 2.6 0ZM389.5 318.90000000000003a1.3 1.3 0 0 1 2.6 0ZM392.7 318.90000000000003a1.3 1.3 0 0 1 2.6 0ZM395.9 318.90000000000003a1.3 1.3 0 0 1 2.6 0ZM399.1 318.90000000000003a1.3 1.3 0 0 1 2.6 0ZM402.3 318.90000000000003a1.3 1.3 0 0 1 2.6 0ZM405.5 318.90000000000003a1.3 1.3 0 0 1 2.6 0Z" fill="#7f860c"/>
<path d="M311.6 265.4C311.8 265.7 312.0 265.9 312.8 267.2C313.6 268.5 315.3 271.1 316.5 273.3C317.7 275.5 318.7 277.9 320.1 280.5C321.5 283.1 323.1 286.4 324.9 289.0C326.7 291.6 329.1 294.1 330.9 296.2C332.7 298.3 334.8 300.7 335.8 301.7C336.8 302.7 336.6 302.3 337.0 302.3C337.4 302.3 337.5 302.1 338.2 301.7C338.9 301.2 339.4 301.3 341.0 299.6C342.6 297.9 345.7 294.2 347.8 291.4C349.9 288.6 352.1 285.8 353.9 283.0C355.7 280.2 357.5 277.1 358.7 274.5C359.9 271.9 360.5 268.7 361.1 267.2C361.7 265.7 362.1 265.7 362.3 265.4Z" fill="url(#tipg)"/>
<path d="M314.9 273.3a1.4 1.4 0 1 0 2.8 0a1.4 1.4 0 1 0 -2.8 0M318.5 280.5a1.4 1.4 0 1 0 2.8 0a1.4 1.4 0 1 0 -2.8 0M323.3 289.0a1.4 1.4 0 1 0 2.8 0a1.4 1.4 0 1 0 -2.8 0M329.3 296.2a1.4 1.4 0 1 0 2.8 0a1.4 1.4 0 1 0 -2.8 0M334.2 301.7a1.4 1.4 0 1 0 2.8 0a1.4 1.4 0 1 0 -2.8 0M337.0 301.7a1.4 1.4 0 1 0 2.8 0a1.4 1.4 0 1 0 -2.8 0M339.8 299.6a1.4 1.4 0 1 0 2.8 0a1.4 1.4 0 1 0 -2.8 0M346.6 291.4a1.4 1.4 0 1 0 2.8 0a1.4 1.4 0 1 0 -2.8 0M352.7 283.0a1.4 1.4 0 1 0 2.8 0a1.4 1.4 0 1 0 -2.8 0M357.5 274.5a1.4 1.4 0 1 0 2.8 0a1.4 1.4 0 1 0 -2.8 0" fill="#787d08"/>
<rect x="310.6" y="262.79999999999995" width="52.69999999999999" height="3.6" fill="url(#glowb)"/>
<rect x="333.8" y="301.8" width="6" height="17.2" fill="url(#barb)"/>
<path d="M479 317.2A51.0 20.5 0 0 0 581 317.2Z" fill="url(#surfg)"/>
<path d="M481.7 317.5a1.3 1.3 0 0 1 2.6 0ZM484.9 317.5a1.3 1.3 0 0 1 2.6 0ZM488.1 317.5a1.3 1.3 0 0 1 2.6 0ZM491.3 317.5a1.3 1.3 0 0 1 2.6 0ZM494.5 317.5a1.3 1.3 0 0 1 2.6 0ZM497.7 317.5a1.3 1.3 0 0 1 2.6 0ZM500.9 317.5a1.3 1.3 0 0 1 2.6 0ZM504.1 317.5a1.3 1.3 0 0 1 2.6 0ZM507.3 317.5a1.3 1.3 0 0 1 2.6 0ZM510.5 317.5a1.3 1.3 0 0 1 2.6 0ZM513.7 317.5a1.3 1.3 0 0 1 2.6 0ZM516.9 317.5a1.3 1.3 0 0 1 2.6 0ZM520.1 317.5a1.3 1.3 0 0 1 2.6 0ZM523.3 317.5a1.3 1.3 0 0 1 2.6 0ZM526.5 317.5a1.3 1.3 0 0 1 2.6 0ZM529.7 317.5a1.3 1.3 0 0 1 2.6 0ZM532.9 317.5a1.3 1.3 0 0 1 2.6 0ZM536.1 317.5a1.3 1.3 0 0 1 2.6 0ZM539.3 317.5a1.3 1.3 0 0 1 2.6 0ZM542.5 317.5a1.3 1.3 0 0 1 2.6 0ZM545.7 317.5a1.3 1.3 0 0 1 2.6 0ZM548.9 317.5a1.3 1.3 0 0 1 2.6 0ZM552.1 317.5a1.3 1.3 0 0 1 2.6 0ZM555.3 317.5a1.3 1.3 0 0 1 2.6 0ZM558.5 317.5a1.3 1.3 0 0 1 2.6 0ZM561.7 317.5a1.3 1.3 0 0 1 2.6 0ZM564.9 317.5a1.3 1.3 0 0 1 2.6 0ZM568.1 317.5a1.3 1.3 0 0 1 2.6 0ZM571.3 317.5a1.3 1.3 0 0 1 2.6 0ZM574.5 317.5a1.3 1.3 0 0 1 2.6 0Z" fill="#7f860c"/>
<path d="M480.8 264.0C481.2 264.4 482.0 264.3 483.2 266.5C484.4 268.7 486.3 273.7 488.1 277.3C489.9 280.9 492.1 285.2 494.1 288.2C496.1 291.2 498.5 293.5 500.1 295.4C501.7 297.3 502.7 298.7 503.5 299.5C504.3 300.3 504.5 300.3 505.0 300.3C505.5 300.3 505.7 300.1 506.5 299.5C507.3 298.9 508.1 298.5 509.8 296.6C511.6 294.7 514.6 291.2 517.0 288.2C519.4 285.2 522.3 281.9 524.3 278.5C526.3 275.1 528.0 270.1 529.1 267.7C530.2 265.3 530.6 264.6 530.9 264.0Z" fill="url(#tipg)"/>
<path d="M486.5 277.3a1.4 1.4 0 1 0 2.8 0a1.4 1.4 0 1 0 -2.8 0M492.5 288.2a1.4 1.4 0 1 0 2.8 0a1.4 1.4 0 1 0 -2.8 0M498.5 295.4a1.4 1.4 0 1 0 2.8 0a1.4 1.4 0 1 0 -2.8 0M501.9 299.5a1.4 1.4 0 1 0 2.8 0a1.4 1.4 0 1 0 -2.8 0M505.3 299.5a1.4 1.4 0 1 0 2.8 0a1.4 1.4 0 1 0 -2.8 0M508.6 296.6a1.4 1.4 0 1 0 2.8 0a1.4 1.4 0 1 0 -2.8 0M515.8 288.2a1.4 1.4 0 1 0 2.8 0a1.4 1.4 0 1 0 -2.8 0M523.1 278.5a1.4 1.4 0 1 0 2.8 0a1.4 1.4 0 1 0 -2.8 0" fill="#787d08"/>
<rect x="479.8" y="261.4" width="52.099999999999966" height="3.6" fill="url(#glowb)"/>
<rect x="502.6" y="299.8" width="6" height="17.6" fill="url(#barb)"/>
<path d="M647.5 317.4A47.25 21 0 0 0 742 317.4Z" fill="url(#surfg)"/>
<path d="M650.2 317.7a1.3 1.3 0 0 1 2.6 0ZM653.4 317.7a1.3 1.3 0 0 1 2.6 0ZM656.6 317.7a1.3 1.3 0 0 1 2.6 0ZM659.8 317.7a1.3 1.3 0 0 1 2.6 0ZM663.0 317.7a1.3 1.3 0 0 1 2.6 0ZM666.2 317.7a1.3 1.3 0 0 1 2.6 0ZM669.4 317.7a1.3 1.3 0 0 1 2.6 0ZM672.6 317.7a1.3 1.3 0 0 1 2.6 0ZM675.8 317.7a1.3 1.3 0 0 1 2.6 0ZM679.0 317.7a1.3 1.3 0 0 1 2.6 0ZM682.2 317.7a1.3 1.3 0 0 1 2.6 0ZM685.4 317.7a1.3 1.3 0 0 1 2.6 0ZM688.6 317.7a1.3 1.3 0 0 1 2.6 0ZM691.8 317.7a1.3 1.3 0 0 1 2.6 0ZM695.0 317.7a1.3 1.3 0 0 1 2.6 0ZM698.2 317.7a1.3 1.3 0 0 1 2.6 0ZM701.4 317.7a1.3 1.3 0 0 1 2.6 0ZM704.6 317.7a1.3 1.3 0 0 1 2.6 0ZM707.8 317.7a1.3 1.3 0 0 1 2.6 0ZM711.0 317.7a1.3 1.3 0 0 1 2.6 0ZM714.2 317.7a1.3 1.3 0 0 1 2.6 0ZM717.4 317.7a1.3 1.3 0 0 1 2.6 0ZM720.6 317.7a1.3 1.3 0 0 1 2.6 0ZM723.8 317.7a1.3 1.3 0 0 1 2.6 0ZM727.0 317.7a1.3 1.3 0 0 1 2.6 0ZM730.2 317.7a1.3 1.3 0 0 1 2.6 0ZM733.4 317.7a1.3 1.3 0 0 1 2.6 0ZM736.6 317.7a1.3 1.3 0 0 1 2.6 0Z" fill="#7f860c"/>
<path d="M655.4 268.5C655.9 268.9 657.4 268.7 658.5 270.9C659.6 273.1 660.7 278.3 662.1 281.7C663.5 285.1 665.1 288.8 666.9 291.4C668.7 294.0 671.5 296.0 672.9 297.4C674.3 298.8 674.4 299.3 675.4 299.8C676.4 300.3 677.6 300.4 678.7 300.3C679.8 300.2 681.0 299.9 682.0 299.2C683.0 298.5 683.7 297.7 685.0 296.2C686.3 294.7 688.2 293.0 689.8 290.2C691.4 287.4 693.3 282.7 694.7 279.3C696.1 275.9 697.7 271.5 698.3 269.7C698.9 267.9 698.5 268.7 698.5 268.5Z" fill="url(#tipg)"/>
<path d="M660.5 281.7a1.4 1.4 0 1 0 2.8 0a1.4 1.4 0 1 0 -2.8 0M665.3 291.4a1.4 1.4 0 1 0 2.8 0a1.4 1.4 0 1 0 -2.8 0M671.3 297.4a1.4 1.4 0 1 0 2.8 0a1.4 1.4 0 1 0 -2.8 0M673.8 299.8a1.4 1.4 0 1 0 2.8 0a1.4 1.4 0 1 0 -2.8 0M680.8 299.2a1.4 1.4 0 1 0 2.8 0a1.4 1.4 0 1 0 -2.8 0M683.8 296.2a1.4 1.4 0 1 0 2.8 0a1.4 1.4 0 1 0 -2.8 0M688.6 290.2a1.4 1.4 0 1 0 2.8 0a1.4 1.4 0 1 0 -2.8 0M693.5 279.3a1.4 1.4 0 1 0 2.8 0a1.4 1.4 0 1 0 -2.8 0" fill="#787d08"/>
<rect x="654.4" y="265.9" width="45.10000000000002" height="3.6" fill="url(#glowo)"/>
<rect x="673.5" y="299" width="9.5" height="19.8" fill="url(#barr)"/>
<path d="M311.9 280.3L314.4 282.9L317.0 282.0L319.6 284.6L322.2 283.7L323.9 278.6L326.4 282.9L328.2 276.9L330.7 277.7L332.4 275.2L335.0 276.0" fill="none" stroke="#3ae04e" stroke-width="1.25" stroke-linejoin="round" stroke-linecap="round" />
<path d="M341.9 285.4L346.2 281.2L349.6 279.4L352.2 282.0L354.7 281.2L358.2 287.2L361.6 282.0L364.2 278.6L365.9 282.0L368.5 276.0L371.0 279.4" fill="none" stroke="#3ae04e" stroke-width="1.25" stroke-linejoin="round" stroke-linecap="round" />
<path d="M309.3 298.3L311.9 297.5L314.4 300.0L317.0 298.3L319.6 300.9L322.2 294.9L324.7 296.6L327.3 293.2L330.7 293.2" fill="none" stroke="#3ae04e" stroke-width="1.25" stroke-linejoin="round" stroke-linecap="round" />
<path d="M339.3 302.3C340.2 301.9 342.8 300.8 344.5 300.0C346.2 299.2 347.9 298.4 349.6 297.5C351.3 296.6 353.0 295.3 354.7 294.9C356.4 294.5 358.2 294.6 359.9 294.9C361.6 295.2 363.3 296.0 365.0 296.6C366.7 297.2 368.5 297.7 370.2 298.3C371.9 298.9 373.8 299.1 375.0 300.0C376.2 300.9 376.7 303.8 377.5 304.0C378.3 304.2 379.6 301.5 380.0 301.0" fill="none" stroke="#3ae04e" stroke-width="1.25" stroke-linejoin="round" stroke-linecap="round"/>
<path d="M344.5 300.0l0.9 2.0M349.6 297.5l1.0 2.0M354.7 294.9l0.5 2.1M359.9 294.9l-0.4 2.2M365.0 296.6l-0.7 2.1M370.2 298.3l-0.7 2.1" stroke="#3ae04e" stroke-width="0.9" fill="none"/>
<path d="M381.0 298.0C380.8 297.8 380.0 296.4 379.5 296.5C379.0 296.6 378.1 297.5 377.8 298.5C377.6 299.5 377.6 301.5 378.0 302.5C378.4 303.5 379.8 304.6 380.5 304.5C381.2 304.4 381.9 301.7 382.0 302.0C382.1 302.3 381.2 304.9 381.2 306.5C381.2 308.1 381.9 310.1 382.2 311.8C382.5 313.5 382.8 315.7 382.9 316.5" fill="none" stroke="#1a2ab0" stroke-width="1.375" stroke-linejoin="round" stroke-linecap="round"/>
<path d="M354.8 320.1C355.5 319.5 357.2 317.3 358.8 316.5C360.4 315.7 362.4 315.4 364.1 315.2C365.8 315.0 367.2 315.2 368.8 315.4C370.4 315.5 372.0 315.9 373.5 316.1C375.0 316.3 376.4 316.6 378.0 316.8C379.6 317.0 382.1 317.1 382.9 317.2" fill="none" stroke="#1a2ab0" stroke-width="1.375" stroke-linejoin="round" stroke-linecap="round"/>
<path d="M358.8 316.5l0.9 1.8M364.1 315.2l0.2 2.0M368.8 315.4l-0.2 2.0M373.5 316.1l-0.3 2.0M378.0 316.8l-0.2 2.0" stroke="#1a2ab0" stroke-width="0.9" fill="none"/>
<path d="M379.5 296.1L379.7 295.8L379.9 295.6L380.2 295.4L380.5 295.2L380.9 295.2L381.3 295.2L381.7 295.2L382.2 295.3L382.7 295.4L383.2 295.5L383.8 295.7L384.3 295.8L384.8 296.0L385.3 296.1L385.8 296.2L386.3 296.2L386.7 296.3L387.1 296.2L387.5 296.1L387.8 296.0L388.0 295.8L388.2 295.5L388.4 295.2L388.5 294.8L388.6 294.4L388.6 293.9L388.7 293.4L388.4 293.1L388.7 292.6L388.9 292.1L389.1 291.6L389.3 291.1L389.5 290.6L389.7 290.2L390.0 289.9L390.3 289.5L390.5 289.3L390.8 289.1L391.1 289.0L391.5 289.0L391.8 289.1L392.2 289.2L392.6 289.4L393.0 289.6L393.4 289.9L393.8 290.2L394.2 290.5L394.6 290.9L395.1 291.2L395.5 291.6L395.9 291.9L396.3 292.2L395.3 292.4L395.5 292.8L395.7 293.1L395.9 293.3L396.2 293.5L396.5 293.6L396.9 293.7L397.2 293.7L397.7 293.6L398.1 293.5L398.5 293.3L399.0 293.1L399.5 292.8L400.0 292.6L400.5 292.3L401.0 292.1L401.4 291.9L402.2 292.0L402.7 292.0L403.1 292.0L403.5 292.0L403.8 292.2L404.1 292.3L404.4 292.6L404.5 292.8L404.7 293.2L404.8 293.6L404.8 294.0L404.8 294.5L404.8 295.0L404.8 295.5L404.7 296.1L404.6 296.6L404.6 297.2L404.6 297.7L404.5 298.2L404.5 298.7L404.6 299.1L404.7 299.5L404.8 299.8" fill="none" stroke="#3ae04e" stroke-width="1.3" stroke-linejoin="round"/><path d="M382.5 299.9L382.8 299.8L383.1 299.6L383.4 299.4L383.6 299.1L383.7 298.8L383.8 298.4L383.9 298.0L383.9 297.5L383.9 297.0L383.9 296.4L383.9 295.9L383.9 295.3L383.9 294.8L383.9 294.3L383.9 293.7L384.0 293.3L384.1 292.9L384.2 292.5L384.3 292.2L384.6 291.9L384.8 291.7L385.1 291.6L385.5 291.5L385.9 291.5L386.3 291.5L386.8 291.5L387.3 291.6L388.1 291.7L388.5 292.1L389.0 292.4L389.4 292.8L389.8 293.1L390.2 293.4L390.6 293.7L391.0 293.9L391.4 294.0L391.7 294.1L392.1 294.1L392.4 294.1L392.7 293.9L393.0 293.7L393.3 293.5L393.5 293.1L393.8 292.7L394.0 292.3L394.2 291.8L394.4 291.3L394.6 290.8L394.8 290.3L395.0 289.8L395.3 289.3L395.5 288.9L397.1 288.8L397.5 288.7L397.9 288.7L398.2 288.8L398.5 288.9L398.8 289.0L399.1 289.3L399.3 289.6L399.5 290.0L399.6 290.4L399.7 290.9L399.9 291.4L400.0 291.9L400.1 292.4L400.2 293.0L400.3 293.5L400.4 294.0L400.1 294.3L400.1 294.8L400.2 295.2L400.3 295.6L400.4 295.9L400.6 296.2L400.9 296.4L401.2 296.5L401.5 296.6L401.9 296.7L402.4 296.7L402.8 296.7L403.3 296.6L403.9 296.5L404.4 296.4L405.0 296.3L405.5 296.2L406.0 296.1L406.5 296.0L407.0 296.0L407.4 296.0L407.8 296.0L408.2 296.2" fill="none" stroke="#1a2ab0" stroke-width="1.4" stroke-linejoin="round"/>
<path d="M479.1 280.0L483.7 283.5L488.2 281.2L491.6 284.6L495.0 277.8L498.5 280.0L501.9 276.6" fill="none" stroke="#3ae04e" stroke-width="1.25" stroke-linejoin="round" stroke-linecap="round" />
<path d="M509.8 284.6L514.4 281.2L519.0 278.9L523.5 282.3L526.9 280.0L530.3 284.6L533.8 277.8L537.2 280.0" fill="none" stroke="#3ae04e" stroke-width="1.25" stroke-linejoin="round" stroke-linecap="round" />
<path d="M476.8 298.3L481.4 299.4L484.8 296.0L488.2 298.3L491.6 292.6L496.2 293.7" fill="none" stroke="#3ae04e" stroke-width="1.25" stroke-linejoin="round" stroke-linecap="round" />
<path d="M508.7 302.8C509.8 302.6 512.9 302.3 515.5 301.7C518.1 301.1 521.6 299.6 524.6 299.4C527.6 299.2 530.8 299.7 533.8 300.5C536.8 301.3 540.4 302.9 542.9 304.0C545.4 305.1 547.6 306.8 548.6 307.4" fill="none" stroke="#3ae04e" stroke-width="1.25" stroke-linejoin="round" stroke-linecap="round"/>
<path d="M512.0 302.2l0.4 2.2M515.5 301.7l0.5 2.2M520.0 300.5l0.5 2.1M524.6 299.4l0.2 2.2M529.0 299.8l-0.3 2.2M533.8 300.5l-0.5 2.1M538.0 302.0l-0.8 2.1M542.9 304.0l-1.0 2.0" stroke="#3ae04e" stroke-width="0.9" fill="none"/>
<path d="M524.6 316.5C525.0 315.6 525.9 312.5 527.0 311.0C528.1 309.5 530.0 308.3 531.5 307.4C533.0 306.5 534.5 306.2 536.0 305.8C537.5 305.4 539.2 305.1 540.6 305.1C542.0 305.1 543.2 305.6 544.5 306.0C545.8 306.4 547.9 307.2 548.6 307.4" fill="none" stroke="#1a2ab0" stroke-width="1.375" stroke-linejoin="round" stroke-linecap="round"/>
<path d="M527.0 311.0l1.6 1.2M531.5 307.4l1.0 1.7M536.0 305.8l0.5 1.9M540.6 305.1l-0.0 2.0M544.5 306.0l-0.6 1.9" stroke="#1a2ab0" stroke-width="0.9" fill="none"/>
<path d="M553.5 306.3L553.0 305.9L552.5 305.6L552.0 305.2L551.6 304.8L551.2 304.5L550.8 304.1L550.4 303.8L550.2 303.4L549.9 303.1L549.7 302.7L549.6 302.4L549.6 302.1L549.6 301.7L549.7 301.4L549.9 301.1L550.1 300.8L550.3 300.5L550.7 300.2L551.1 299.9L551.5 299.6L552.0 299.3L552.5 299.0L553.0 298.7L553.5 298.4L554.1 298.1L554.6 297.8L555.1 297.5L555.7 297.2L556.2 296.9L556.6 296.6L557.1 296.3L557.5 296.0L557.8 295.7L558.1 295.4L558.3 295.1L558.4 294.8L558.5 294.4L558.6 294.1L558.5 293.8L558.4 293.4L558.3 293.1L558.0 292.7L557.7 292.4L557.4 292.0L557.0 291.7L556.6 291.3L556.2 291.0L555.7 290.6L555.2 290.2L554.7 289.9L554.2 289.5L553.7 289.1L553.2 288.8L552.8 288.4L552.3 288.1L552.0 287.7L551.6 287.3L551.3 287.0L551.1 286.6L550.9 286.3L550.8 286.0L550.8 285.6L550.8 285.3L550.9 285.0L551.0 284.5L551.2 284.2L551.5 283.9L551.9 283.6L552.3 283.3L552.7 283.0L553.2 282.7L553.7 282.5L554.2 282.2L554.8 281.9L555.3 281.7L555.9 281.4L556.4 281.1L557.0 280.8L557.5 280.6L558.0 280.3L558.4 280.0L558.8 279.7L559.2 279.4L559.5 279.1L559.7 278.8L559.9 278.5L560.0 278.2L560.0 277.9L560.0 277.5L559.9 277.2L559.8 276.9L559.6 276.5L559.3 276.1L559.0 275.8L558.6 275.4L558.2 275.0L557.8 274.6L557.3 274.3L556.9 273.9L556.4 273.5L555.9 273.1L555.4 272.7L555.0 272.3L554.5 271.9L554.1 271.6L553.7 271.2L553.4 270.8L553.1 270.5L552.9 270.1L552.7 269.8L552.6 269.4L552.6 269.1L552.6 268.7L552.7 268.4L552.9 268.1L553.1 267.8L553.4 267.5L553.7 267.2L554.1 266.9L554.5 266.6L555.0 266.4L555.5 266.1L556.0 265.8L556.6 265.5L557.1 265.3L557.7 265.0L558.3 264.7L558.8 264.5L559.3 264.2L559.8 263.9L560.2 263.6L560.6 263.4" fill="none" stroke="#48e068" stroke-width="1.6" stroke-linejoin="round"/><path d="M553.5 306.3L554.0 306.0L554.6 305.7L555.1 305.4L555.6 305.1L556.1 304.8L556.5 304.5L556.9 304.2L557.2 303.9L557.5 303.6L557.7 303.3L557.9 303.0L558.0 302.7L558.0 302.3L557.9 302.0L557.8 301.7L557.7 301.3L557.4 301.0L557.2 300.6L556.8 300.3L556.4 299.9L556.0 299.5L555.6 299.2L555.1 298.8L554.6 298.4L554.1 298.1L553.6 297.7L553.1 297.4L552.6 297.0L552.2 296.6L551.8 296.3L551.4 295.9L551.0 295.6L550.7 295.2L550.5 294.9L550.3 294.5L550.2 294.2L550.2 293.8L550.2 293.5L550.3 293.2L550.4 292.9L550.6 292.6L550.9 292.2L551.2 291.9L551.6 291.6L552.1 291.3L552.5 291.0L553.0 290.7L553.5 290.4L554.1 290.2L554.6 289.9L555.2 289.6L555.7 289.3L556.2 289.0L556.7 288.7L557.2 288.4L557.6 288.1L558.0 287.8L558.4 287.5L558.6 287.2L558.9 286.9L559.0 286.5L559.1 286.2L559.1 285.9L559.1 285.6L559.0 285.4L558.8 285.0L558.6 284.7L558.4 284.3L558.1 284.0L557.7 283.6L557.3 283.2L556.9 282.8L556.4 282.4L555.9 282.1L555.4 281.7L555.0 281.3L554.5 280.9L554.0 280.5L553.6 280.1L553.2 279.8L552.8 279.4L552.5 279.0L552.2 278.6L552.0 278.3L551.8 277.9L551.7 277.6L551.7 277.3L551.7 276.9L551.8 276.6L551.9 276.3L552.2 276.0L552.4 275.7L552.8 275.4L553.2 275.1L553.6 274.8L554.1 274.6L554.6 274.3L555.1 274.0L555.7 273.7L556.2 273.5L556.8 273.2L557.3 272.9L557.9 272.7L558.4 272.4L558.9 272.1L559.3 271.8L559.7 271.5L560.1 271.3L560.4 271.0L560.6 270.7L560.8 270.3L560.9 270.0L561.0 269.7L560.9 269.4L560.9 269.0L560.7 268.7L560.5 268.3L560.3 268.0L559.9 267.6L559.6 267.2L559.2 266.8L558.8 266.5L558.3 266.1L557.8 265.7L557.3 265.3L556.9 264.9L556.4 264.5L555.9 264.1L555.5 263.8L555.1 263.4L554.7 263.0L554.4 262.6" fill="none" stroke="#1a2ab0" stroke-width="1.7" stroke-linejoin="round"/>
<path d="M557.5 263.0C557.8 262.7 558.2 261.2 559.0 261.0C559.8 260.8 560.8 261.0 562.0 262.0C563.2 263.0 564.7 265.2 566.0 267.0C567.3 268.8 568.7 270.9 570.0 272.5C571.3 274.1 573.3 275.7 574.0 276.3" fill="none" stroke="#1a2ab0" stroke-width="1.75" stroke-linejoin="round" stroke-linecap="round"/>
<path d="M554.0 261.0C554.5 260.6 555.7 258.8 557.0 258.5C558.3 258.2 560.3 258.1 562.0 259.0C563.7 259.9 565.7 262.2 567.0 264.0C568.3 265.8 569.3 267.7 570.0 270.0C570.7 272.3 570.8 276.7 571.0 278.0" fill="none" stroke="#48e068" stroke-width="1.5" stroke-linejoin="round" stroke-linecap="round"/>
<path d="M653.4 284.1L656.3 286.0L659.1 283.1L661.9 286.0L665.6 281.3L668.5 283.1L671.3 279.4L675.0 280.3" fill="none" stroke="#3ae04e" stroke-width="1.25" stroke-linejoin="round" stroke-linecap="round" />
<path d="M682.5 287.8L686.3 285.0L690.0 283.1L693.0 286.0L696.0 281.0L699.0 284.0L702.0 279.0L705.0 282.0L708.0 277.0L710.7 279.6" fill="none" stroke="#3ae04e" stroke-width="1.25" stroke-linejoin="round" stroke-linecap="round" />
<path d="M651.6 300.0L654.4 301.0L657.2 299.1L660.0 301.0L663.8 295.3L667.5 297.2L670.3 293.5L673.1 293.5" fill="none" stroke="#3ae04e" stroke-width="1.25" stroke-linejoin="round" stroke-linecap="round" />
<path d="M683.5 306.0L683.1 305.5L682.7 305.0L682.4 304.6L682.1 304.1L681.8 303.6L681.5 303.2L681.3 302.8L681.2 302.4L681.1 302.0L681.1 301.6L681.1 301.3L681.3 301.0L681.5 300.7L681.7 300.5L682.0 300.2L682.4 300.0L682.8 299.8L683.3 299.6L683.9 299.5L684.4 299.3L685.0 299.2L685.6 299.0L686.2 298.9L686.8 298.8L687.4 298.6L688.0 298.5L688.5 298.3L689.0 298.1L689.5 298.0L689.9 297.7L690.2 297.5L690.5 297.3L690.7 297.0L690.9 296.7L690.9 296.4L690.9 296.0L690.9 295.7L690.8 295.3L690.6 294.9L690.4 294.4L690.1 294.0L689.8 293.5L689.4 293.0L689.1 292.6L688.7 292.1L688.3 291.6L687.9 291.1L687.6 290.6L687.2 290.1L686.9 289.7L686.7 289.2L686.4 288.8L686.3 288.4L686.2 288.0L686.1 287.7L686.2 287.3L686.3 287.0L686.4 286.7L686.6 286.4L686.9 286.2L687.3 286.0L687.7 285.8L688.2 285.6L688.7 285.4L689.2 285.2L689.8 285.1L690.4 285.0L691.0 284.8L691.6 284.6L692.2 284.5L692.7 284.3L693.3 284.1L693.8 283.9L694.2 283.6L694.6 283.4L695.0 283.2L695.3 282.9L695.5 282.6L695.6 282.3L695.7 282.0L695.7 281.7L695.7 281.3L695.6 280.9L695.4 280.5L695.1 280.1L694.8 279.7L694.5 279.3L694.1 278.8L693.7 278.4L693.3 277.9L692.9 277.5L692.5 277.0L692.1 276.6L691.7 276.1L691.3 275.7L691.0 275.3L690.7 274.8L690.5 274.4L690.4 274.1L690.3 273.7L690.2 273.3L690.3 273.0L690.4 272.7L690.6 272.4L690.8 272.1L691.1 271.9L691.5 271.6L691.9 271.4L692.4 271.2L692.9 271.0L693.4 270.8L694.0 270.6L694.6 270.4L695.2 270.2L695.8 270.0L696.4 269.9L696.9 269.7L697.4 269.5L697.9 269.2L698.3 269.0L698.7 268.8L699.0 268.5L699.3 268.2L699.5 267.9L699.6 267.6L699.6 267.3L699.6 266.9L699.5 266.6L699.3 266.2L699.1 265.8L698.8 265.4L698.5 265.0L698.2 264.5L697.8 264.1L697.4 263.6L696.9 263.2L696.5 262.7L696.1 262.3" fill="none" stroke="#48e068" stroke-width="1.6" stroke-linejoin="round"/><path d="M683.5 306.0L684.1 305.9L684.7 305.7L685.3 305.6L685.8 305.4L686.3 305.3L686.8 305.1L687.2 304.9L687.6 304.7L687.9 304.4L688.1 304.1L688.3 303.9L688.4 303.5L688.4 303.2L688.4 302.8L688.3 302.5L688.1 302.0L687.9 301.6L687.7 301.2L687.4 300.7L687.0 300.2L686.7 299.8L686.3 299.3L685.9 298.8L685.5 298.3L685.2 297.8L684.8 297.3L684.5 296.9L684.2 296.4L684.0 296.0L683.8 295.6L683.7 295.2L683.6 294.8L683.6 294.5L683.7 294.1L683.8 293.8L684.0 293.6L684.3 293.3L684.7 293.1L685.1 292.9L685.5 292.7L686.0 292.5L686.5 292.4L687.1 292.2L687.7 292.1L688.3 291.9L688.9 291.8L689.5 291.7L690.1 291.5L690.6 291.4L691.2 291.2L691.7 291.0L692.1 290.8L692.5 290.6L692.8 290.4L693.1 290.1L693.3 289.9L693.4 289.5L693.5 289.2L693.5 288.9L693.4 288.5L693.3 288.1L693.1 287.7L692.8 287.2L692.5 286.8L692.2 286.3L691.9 285.8L691.5 285.4L691.1 284.9L690.7 284.4L690.3 284.0L689.9 283.5L689.5 283.1L689.2 282.6L688.9 282.2L688.6 281.8L688.5 281.4L688.3 281.0L688.3 280.7L688.3 280.4L688.4 280.0L688.6 279.7L688.8 279.5L689.1 279.2L689.4 278.9L689.8 278.7L690.3 278.5L690.8 278.3L691.3 278.1L691.9 277.9L692.5 277.7L693.1 277.5L693.7 277.3L694.3 277.2L694.8 277.0L695.3 276.8L695.8 276.5L696.3 276.3L696.7 276.1L697.0 275.8L697.3 275.6L697.5 275.3L697.6 275.0L697.7 274.6L697.7 274.3L697.6 273.9L697.4 273.6L697.2 273.2L697.0 272.8L696.7 272.3L696.3 271.9L696.0 271.5L695.6 271.0L695.1 270.6L694.7 270.1L694.3 269.6L693.9 269.2L693.5 268.7L693.2 268.3L692.9 267.9L692.6 267.5L692.4 267.1L692.3 266.7L692.2 266.3L692.2 266.0L692.2 265.7L692.4 265.4L692.5 265.1L692.8 264.8L693.1 264.5L693.5 264.3L694.0 264.1L694.5 263.9L695.0 263.7L695.5 263.5L696.1 263.3L696.7 263.1L697.3 262.9L697.9 262.7" fill="none" stroke="#1a2ab0" stroke-width="1.7" stroke-linejoin="round"/>
<path d="M697.5 262.5C697.9 262.2 698.9 260.4 700.0 261.0C701.1 261.6 702.7 264.2 704.0 266.0C705.3 267.8 706.7 269.9 708.0 271.5C709.3 273.1 711.0 274.9 711.6 275.6" fill="none" stroke="#1a2ab0" stroke-width="1.5" stroke-linejoin="round" stroke-linecap="round"/>
<path d="M694.5 262.5C695.2 262.0 697.6 259.6 699.0 259.5C700.4 259.4 701.7 260.6 703.0 262.0C704.3 263.4 705.8 266.0 707.0 268.0C708.2 270.0 709.5 273.0 710.0 274.0" fill="none" stroke="#3ae04e" stroke-width="1.25" stroke-linejoin="round" stroke-linecap="round"/>
<rect x="348.3" y="312.5" width="41.6" height="12.1" fill="none" stroke="#111" stroke-width="1" stroke-dasharray="2.5 1.8"/>
<text x="351.6" y="333.6" font-family="Liberation Sans, sans-serif" font-size="8.2" fill="#111" stroke="#111" stroke-width="0.3">Adsorbed bases</text>
<rect x="517.4" y="302.8" width="29.6" height="19" fill="none" stroke="#111" stroke-width="1" stroke-dasharray="2.5 1.8"/>
<text x="523.4" y="331.4" font-family="Liberation Sans, sans-serif" font-size="8.2" fill="#111" stroke="#111" stroke-width="0.3">Free bases</text>
</svg></body></html>
